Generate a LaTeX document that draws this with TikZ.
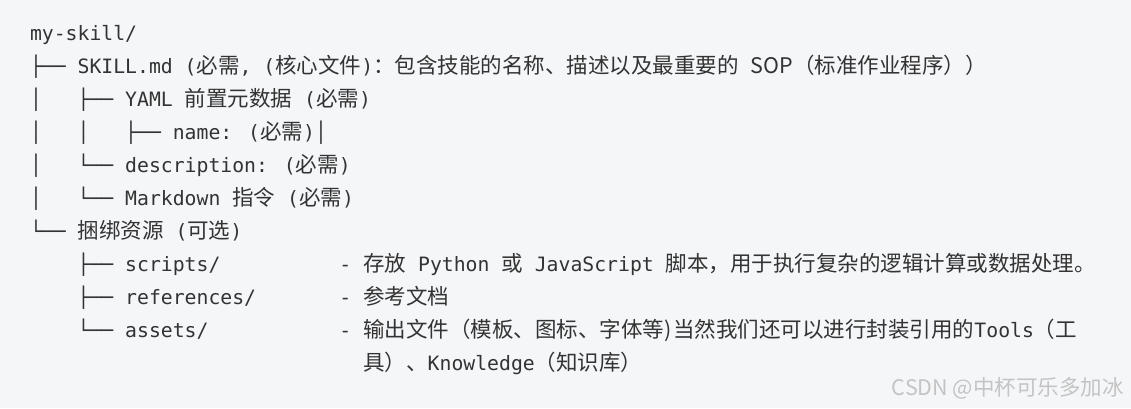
\documentclass[tikz,border=0pt]{standalone}
\usepackage{fontspec}
\newfontfamily\monof{DejaVu Sans Mono}
\newfontfamily\cjkf{Noto Sans CJK SC}
\definecolor{codebg}{HTML}{F5F6F8}
\definecolor{codefg}{HTML}{333333}
\definecolor{wmark}{HTML}{C4C4C4}
\newcommand\zh[1]{{\cjkf\fontsize{21.5pt}{33pt}\selectfont #1}}
\tikzset{
  codeline/.style={anchor=base west, inner sep=0pt, outer sep=0pt, text=codefg,
    font=\monof\fontsize{19.77pt}{33pt}\selectfont},
  wmtext/.style={anchor=base east, inner sep=0pt, text=wmark,
    font=\cjkf\fontsize{21.5pt}{24pt}\selectfont}
}
\begin{document}
\begin{tikzpicture}[x=11.9pt,y=-33pt]
\fill[codebg] (0pt,0pt) rectangle (1131pt,-408pt);
\useasboundingbox (0pt,0pt) rectangle (1131pt,-408pt);
\begin{scope}[shift={(30pt,-40pt)}]
\node[codeline] (root) at (0,0) {my-skill/};
\node[codeline] (skill) at (0,1) {├── SKILL.md (\zh{必需}, (\zh{核心文件})\zh{：包含技能的名称、描述以及最重要的} \zh{SOP（标准作业程序））}};
\node[codeline] (v2a) at (0,2) {│};
\node[codeline] (yaml) at (4,2) {├── YAML \zh{前置元数据} (\zh{必需})};
\node[codeline] (v3a) at (0,3) {│};
\node[codeline] (v3b) at (4,3) {│};
\node[codeline] (name) at (8,3) {├── name: (\zh{必需})│};
\node[codeline] (v4a) at (0,4) {│};
\node[codeline] (desc) at (4,4) {└── description: (\zh{必需})};
\node[codeline] (v5a) at (0,5) {│};
\node[codeline] (md) at (4,5) {└── Markdown \zh{指令} (\zh{必需})};
\node[codeline] (res) at (0,6) {└── \zh{捆绑资源} (\zh{可选})};
\node[codeline] (scripts) at (4,7) {├── scripts/};
\node[codeline] (scriptsd) at (26,7) {- \zh{存放} Python \zh{或} JavaScript \zh{脚本，用于执行复杂的逻辑计算或数据处理。}};
\node[codeline] (refs) at (4,8) {├── references/};
\node[codeline] (refsd) at (26,8) {- \zh{参考文档}};
\node[codeline] (assets) at (4,9) {└── assets/};
\node[codeline] (assetsd) at (26,9) {- \zh{输出文件（模板、图标、字体等)\hspace{2pt}当然我们还可以进行封装引用的}Tools\zh{（工}};
\node[codeline] (assetsd2) at (28,10) {\zh{具）、}Knowledge\zh{（知识库）}};
\end{scope}
\node[wmtext] (wm) at (1124pt,-395pt) {CSDN @中杯可乐多加冰};
\end{tikzpicture}
\end{document}
